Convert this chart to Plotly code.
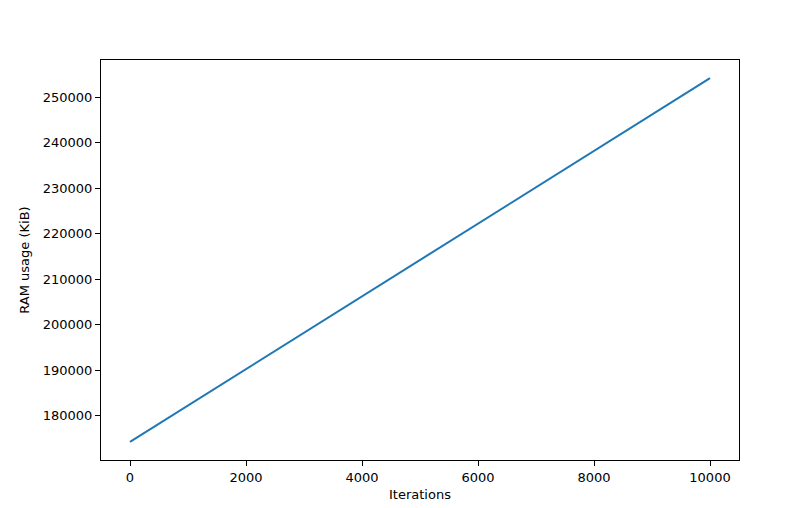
import plotly.graph_objects as go

# Iterations vs RAM usage
iterations = [0, 1000, 2000, 3000, 4000, 5000, 5700, 5800, 6000, 7000, 8000, 9000, 10000]
ram_kib = [174300, 182280, 190270, 198250, 206240, 214220, 219800, 220650, 222250,
           230230, 238220, 246200, 254170]

x_ticks = [0, 2000, 4000, 6000, 8000, 10000]
y_ticks = [180000, 190000, 200000, 210000, 220000, 230000, 240000, 250000]

fig = go.Figure()
fig.add_trace(go.Scatter(
    x=iterations, y=ram_kib, mode='lines',
    line=dict(color='#1f77b4', width=2),
    showlegend=False
))

axis_style = dict(
    showline=True, linecolor='black', linewidth=1, mirror=True,
    ticks='outside', ticklen=5, tickcolor='black', tickwidth=1,
    showgrid=False, zeroline=False, tickformat='d',
    tickfont=dict(family='DejaVu Sans', size=13, color='black'),
)

fig.update_layout(
    width=812, height=508,
    margin=dict(l=93, r=81, t=52, b=56),
    plot_bgcolor='white', paper_bgcolor='white',
    font=dict(family='DejaVu Sans', size=13, color='black'),
    xaxis=dict(range=[-500, 10500], tickvals=x_ticks,
               title=dict(text='Iterations', standoff=6,
                          font=dict(family='DejaVu Sans', size=13)),
               **axis_style),
    yaxis=dict(range=[170307, 258163], tickvals=y_ticks,
               title=dict(text='RAM usage (KiB)', standoff=10,
                          font=dict(family='DejaVu Sans', size=13)),
               **axis_style),
)

fig.write_html("out.html")
